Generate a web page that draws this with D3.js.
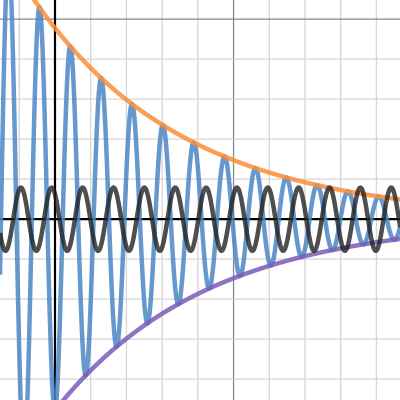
<!DOCTYPE html>
<html><head><meta charset="utf-8">
<script src="https://cdn.jsdelivr.net/npm/d3@7"></script>
<style>body{margin:0;background:#fff}</style>
</head><body>
<script>
// values (graph units: one minor grid cell = 1)
var xDomain = [-1.54, 9.66];
var yDomain = [-4.52, 5.48];
var minorTicksX = d3.range(-1, 10);
var minorTicksY = d3.range(-4, 6);
var majorTicks = [5];
var envelopeAmp = 4.78, envelopeDecay = 0.235;   // orange / purple
var period = 0.864;                              // blue and black
var blackAmp = 0.79, blackPhase = -0.09;

var W = 400, H = 400;
var x = d3.scaleLinear().domain(xDomain).range([0, W]);
var y = d3.scaleLinear().domain(yDomain).range([H, 0]);

var svg = d3.select("body").append("svg").attr("width", W).attr("height", H);

svg.selectAll("line.gx").data(minorTicksX).enter().append("line")
  .attr("x1", d => x(d)).attr("x2", d => x(d)).attr("y1", 0).attr("y2", H)
  .style("stroke", d => majorTicks.indexOf(d) >= 0 ? "#888" : "#d6d6d6").style("stroke-width", 1.3);
svg.selectAll("line.gy").data(minorTicksY).enter().append("line")
  .attr("y1", d => y(d)).attr("y2", d => y(d)).attr("x1", 0).attr("x2", W)
  .style("stroke", d => majorTicks.indexOf(d) >= 0 ? "#888" : "#d6d6d6").style("stroke-width", 1.3);

svg.append("line").attr("x1", x(0)).attr("x2", x(0)).attr("y1", 0).attr("y2", H).style("stroke", "#000").style("stroke-width", 2.2);
svg.append("line").attr("y1", y(0)).attr("y2", y(0)).attr("x1", 0).attr("x2", W).style("stroke", "#000").style("stroke-width", 2.2);

var xs = d3.range(xDomain[0], xDomain[1] + 0.01, 0.005);
var env = t => envelopeAmp * Math.exp(-envelopeDecay * t);
var w = 2 * Math.PI / period;
var line = d3.line().x(d => x(d[0])).y(d => y(d[1]));

var curves = [
  {c: "#4a86c4", o: 0.85, f: t => -env(t) * Math.cos(w * t)},
  {c: "#fa8e3a", o: 0.85, f: env},
  {c: "#7a5cb8", o: 0.85, f: t => -env(t)},
  {c: "#222", o: 0.8, f: t => blackAmp * Math.cos(w * (t - blackPhase))}
];
curves.forEach(function(cv) {
  svg.append("path").datum(xs.map(t => [t, cv.f(t)]))
    .attr("d", line).style("fill", "none").style("stroke", cv.c)
    .style("stroke-opacity", cv.o).style("stroke-width", 4.5);
});
</script>
</body></html>
